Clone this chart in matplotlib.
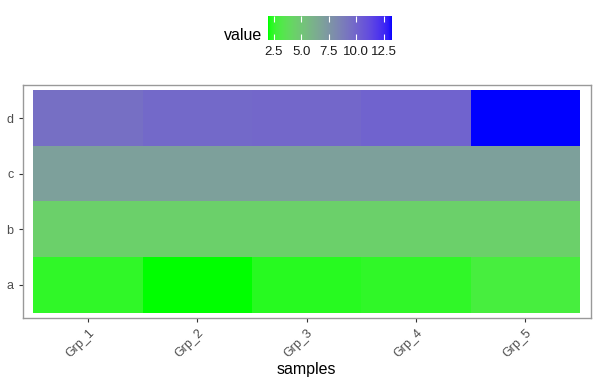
import numpy as np
import matplotlib
matplotlib.use("Agg")
import matplotlib.pyplot as plt
from matplotlib.colors import ListedColormap

plt.rcParams["font.family"] = ["Liberation Sans", "DejaVu Sans"]

# data
samples = ["Grp_1", "Grp_2", "Grp_3", "Grp_4", "Grp_5"]
rows = ["a", "b", "c", "d"]
val_a = [2.4, 2.0, 2.3, 2.4, 2.9]
val_b = [4.5, 4.5, 4.5, 4.5, 4.5]
val_c = [7.0, 7.0, 7.0, 7.0, 7.0]
val_d = [9.5, 9.8, 9.9, 10.1, 13.3]
cbar_ticks = [2.5, 5.0, 7.5, 10.0, 12.5]


# ggplot-like gradient: interpolate in CIELAB
def srgb_to_lab(rgb):
    c = np.asarray(rgb, float)
    lin = np.where(c <= 0.04045, c / 12.92, ((c + 0.055) / 1.055) ** 2.4)
    M = np.array([[0.4124, 0.3576, 0.1805],
                  [0.2126, 0.7152, 0.0722],
                  [0.0193, 0.1192, 0.9505]])
    xyz = M @ lin / np.array([0.95047, 1.0, 1.08883])
    f = np.where(xyz > 0.008856, np.cbrt(xyz), 7.787 * xyz + 16 / 116)
    return np.array([116 * f[1] - 16, 500 * (f[0] - f[1]), 200 * (f[1] - f[2])])


def lab_to_srgb(lab):
    L, a, b = lab
    fy = (L + 16) / 116
    fx = fy + a / 500
    fz = fy - b / 200
    f = np.array([fx, fy, fz])
    xyz = np.where(f ** 3 > 0.008856, f ** 3, (f - 16 / 116) / 7.787)
    xyz = xyz * np.array([0.95047, 1.0, 1.08883])
    Minv = np.array([[3.2406, -1.5372, -0.4986],
                     [-0.9689, 1.8758, 0.0415],
                     [0.0557, -0.2040, 1.0570]])
    lin = np.clip(Minv @ xyz, 0, 1)
    c = np.where(lin <= 0.0031308, 12.92 * lin, 1.055 * lin ** (1 / 2.4) - 0.055)
    return np.clip(c, 0, 1)


lo = srgb_to_lab([0, 1, 0])
hi = srgb_to_lab([0, 0, 1])
cols = [lab_to_srgb(lo + (hi - lo) * t) for t in np.linspace(0, 1, 256)]
cmap = ListedColormap(cols)

Z = np.array([val_a, val_b, val_c, val_d])
vmin, vmax = Z.min(), Z.max()

fig = plt.figure(figsize=(6, 3.86), dpi=100)
ax = fig.add_axes([0.0375, 0.176, 0.9475, 0.604])
x = np.arange(1, len(samples) + 1)
y = np.arange(1, len(rows) + 1)
mesh = ax.pcolormesh(np.arange(0.5, len(samples) + 1), np.arange(0.5, len(rows) + 1), Z,
                     cmap=cmap, vmin=vmin, vmax=vmax, shading="flat")
ax.set_xlim(0.4, len(samples) + 0.6)
ax.set_ylim(0.4, len(rows) + 0.6)
ax.set_xticks(x)
ax.set_xticklabels(samples, rotation=45, ha="right", rotation_mode="anchor",
                   fontsize=9, color="#4d4d4d")
ax.set_yticks(y)
ax.set_yticklabels(rows, fontsize=9, color="#4d4d4d")
ax.tick_params(length=3, color="#333333", width=0.8)
ax.set_xlabel("samples", fontsize=11.5, labelpad=1)
for s in ax.spines.values():
    s.set_color("#999999")
    s.set_linewidth(1.0)

# colour bar legend at top
cax = fig.add_axes([0.447, 0.896, 0.207, 0.062])
cb = fig.colorbar(mesh, cax=cax, orientation="horizontal", ticks=cbar_ticks)
cb.outline.set_visible(False)
cax.tick_params(direction="in", color="white", length=4.5, width=0.8,
                labelsize=9.5, pad=4, top=True, labelcolor="#1a1a1a")
fig.text(0.437, 1 - 36 / 386, "value", ha="right", va="center", fontsize=11.5)

fig.savefig("out.png", dpi=100)
